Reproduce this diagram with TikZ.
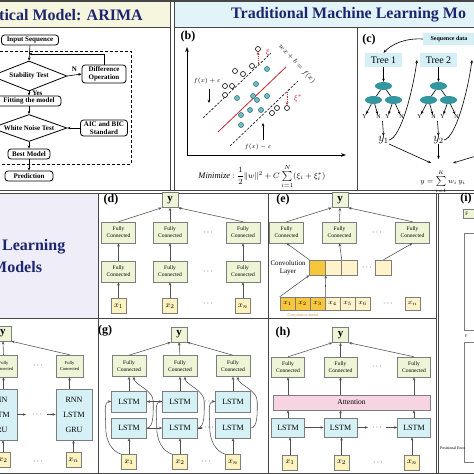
\documentclass[tikz,border=0pt]{standalone}
\usepackage{fontspec}
\setmainfont{Liberation Serif}
\usetikzlibrary{arrows.meta,shapes.geometric,calc}
\newcommand{\fsz}[1]{\fontsize{#1}{#1}\selectfont}
\definecolor{titleblue}{RGB}{28,38,110}
\definecolor{arimahead}{RGB}{246,246,222}
\definecolor{mlhead}{RGB}{226,244,247}
\definecolor{dlhead}{RGB}{239,237,248}
\definecolor{framegray}{RGB}{70,70,70}
\definecolor{boxgray}{RGB}{125,125,125}
\definecolor{arrgray}{RGB}{80,80,80}
\definecolor{fcgreen}{RGB}{238,244,214}
\definecolor{xyellow}{RGB}{253,243,190}
\definecolor{lstmcyan}{RGB}{214,241,245}
\definecolor{attnpink}{RGB}{246,212,226}
\definecolor{golden}{RGB}{246,198,60}
\definecolor{paleyel}{RGB}{254,243,202}
\definecolor{svrteal}{RGB}{64,168,176}
\definecolor{svrred}{RGB}{200,40,50}
\definecolor{treecyan}{RGB}{212,240,246}
\definecolor{treeteal}{RGB}{52,150,158}
\definecolor{kernelcol}{RGB}{200,150,60}
\begin{document}
\begin{tikzpicture}[x=1pt,y=-1pt,
  >={Stealth[length=3.2pt,width=2.6pt]},
  frame/.style={draw=framegray,line width=0.9pt},
  title/.style={font=\fsz{16}\bfseries,text=titleblue,inner sep=0pt,anchor=west},
  plabel/.style={font=\fsz{12}\bfseries,inner sep=0pt},
  arbox/.style={draw=black,rounded corners=3pt,line width=0.8pt,font=\fontsize{7}{8}\selectfont\bfseries,inner sep=0pt,align=center},
  ardia/.style={draw=black,diamond,line width=0.8pt,font=\fsz{7}\bfseries,inner sep=0pt,aspect=2.5},
  arr/.style={->,line width=0.6pt},
  garr/.style={->,draw=arrgray,line width=0.55pt},
  fc/.style={draw=boxgray,line width=0.5pt,fill=fcgreen,minimum width=34pt,minimum height=21pt,inner sep=0pt,align=center,font=\fontsize{5.5}{7}\selectfont},
  ybox/.style={draw=boxgray,line width=0.5pt,fill=fcgreen,minimum width=16pt,minimum height=15pt,inner sep=0pt,font=\fsz{11}\bfseries},
  xbox/.style={draw=boxgray,line width=0.5pt,fill=xyellow,minimum width=15pt,minimum height=15pt,inner sep=0pt,font=\fsz{8}},
  lstm/.style={draw=boxgray,line width=0.5pt,fill=lstmcyan,minimum width=35pt,minimum height=20pt,inner sep=0pt,font=\fsz{8}},
  conv/.style={draw=boxgray,line width=0.5pt,minimum width=16pt,minimum height=15pt,inner sep=0pt},
  incell/.style={draw=boxgray,line width=0.5pt,minimum width=15pt,minimum height=13pt,inner sep=0pt,font=\fsz{7.5}},
  dotsn/.style={font=\fsz{8},inner sep=0pt},
  blackpt/.style={circle,draw=black,line width=0.6pt,fill=white,minimum size=5pt,inner sep=0pt},
  tealpt/.style={circle,draw=svrteal!60!black,line width=0.5pt,fill=svrteal!75,minimum size=5pt,inner sep=0pt},
  treebox/.style={fill=treecyan,minimum width=37pt,minimum height=14pt,inner sep=0pt,font=\fsz{10}},
  treenode/.style={ellipse,fill=treeteal,minimum width=17pt,minimum height=8pt,inner sep=0pt},
  leaf/.style={font=\fsz{6},inner sep=0.5pt}
]
\clip (0,0) rectangle (474,474);
\fill[white] (0,0) rectangle (474,474);
% header bands
\fill[arimahead] (0,2) rectangle (170,27);
\fill[mlhead] (174,2) rectangle (474,27);
\fill[dlhead] (0,193) rectangle (98,318);
% frame lines
\draw[frame,line width=2pt] (0,1) -- (474,1);
\draw[frame] (0,27) -- (170,27);
\draw[frame] (174,27) -- (474,27);
\draw[frame] (170,0) -- (170,190);
\draw[frame] (174,0) -- (174,190);
\draw[frame] (357,27) -- (357,190);
\draw[frame] (0,190) -- (474,190);
\draw[frame] (0,193) -- (474,193);
\draw[frame] (98,193) -- (98,473);
\draw[frame] (268,193) -- (268,473);
\draw[frame] (436.5,193) -- (436.5,473);
\draw[frame] (438.5,193) -- (438.5,473);
\draw[frame] (0,318) -- (436.5,318);
\draw[frame] (0,473) -- (474,473);
% titles
\node[title] (ttlA) at (-1,15) {tical Model: ARIMA};
\node[title] (ttlB) at (231,15) {Traditional Machine Learning Mo};
\node[title] (ttlC1) at (2,247) {Learning};
\node[title] (ttlC2) at (-8,267) {Models};

% ---------- (a) ARIMA
\node[arbox,minimum width=57pt,minimum height=10pt] (inseq) at (30,40) {Input Sequence};
\draw[line width=0.8pt,dash pattern=on 3pt off 2pt] (-5,51) rectangle (131,164);
\node[ardia,minimum width=76pt,minimum height=30pt] (stab) at (29,76) {Stability Test};
\node[arbox,minimum width=44pt,minimum height=18pt] (diff) at (104,74) {Difference\\Operation};
\node[arbox,minimum width=64pt,minimum height=10pt] (fit) at (29,101) {Fitting the model};
\node[ardia,minimum width=76pt,minimum height=27pt] (wnt) at (29,128) {White Noise Test};
\node[arbox,minimum width=47pt,minimum height=16pt] (aic) at (104,128) {AIC and BIC\\Standard};
\node[arbox,minimum width=42pt,minimum height=10pt] (best) at (29,154) {Best Model};
\node[arbox,minimum width=48pt,minimum height=10pt] (pred) at (29,176) {Prediction};
\coordinate (fbk) at (29,54);
\draw[arr] (inseq.south) -- (stab.north);
\draw[arr] (stab.east) -- (diff.west) node[midway,above=3pt,font=\fsz{7}\bfseries,inner sep=0pt] (nlab) {N};
\draw[arr] (diff.north) |- (fbk);
\draw[arr] (stab.south) -- (fit.north) node[midway,right=3pt,font=\fsz{7}\bfseries,inner sep=0pt] (ylab) {Yes};
\draw[arr] (fit.south) -- (wnt.north);
\draw[arr] (aic.west) -- (wnt.east);
\draw[arr] (wnt.south) -- (best.north);
\draw[arr] (best.south) -- (pred.north);

% ---------- (b) SVR
\node[plabel] (lb) at (188,37) {(b)};
\coordinate (bO) at (187,155);
\coordinate (bY) at (187,47);
\coordinate (bX) at (346,155);
\draw[->,line width=0.8pt,>={Stealth[length=5pt,width=3.6pt]}] (bO) -- (bY);
\draw[->,line width=0.8pt,>={Stealth[length=5pt,width=3.6pt]}] (bO) -- (bX);
\coordinate (rA) at (218,132); \coordinate (rB) at (286,67);
\draw[svrred,line width=0.8pt] (rA) -- (rB);
\coordinate (uA) at (203,118); \coordinate (uB) at (271,53);
\draw[line width=0.6pt,dash pattern=on 2.5pt off 1.5pt] (uA) -- (uB);
\coordinate (lA) at (230,146); \coordinate (lB) at (298,81);
\draw[line width=0.6pt,dash pattern=on 2.5pt off 1.5pt] (lA) -- (lB);
\node[font=\fsz{7},rotate=-47,inner sep=0pt] (wxb) at (297,64) {$wx+b=f(x)$};
\foreach \p [count=\i] in {(258,49),(235,71),(252,66),(243,74),(225,86),(232,86),(225,95),(272,113),(277,108),(287,108)}
  \node[blackpt] (bk\i) at \p {};
\foreach \p [count=\i] in {(267,69),(256,84),(237,98),(253,96),(257,100),(267,96),(250,110),(261,110),(241,115),(241,125)}
  \node[tealpt] (tp\i) at \p {};
\coordinate (xiA) at (258,66);
\coordinate (xiB) at (287,92);
\draw[svrred,densely dotted,line width=0.8pt,->] (xiA) -- (bk1);
\draw[svrred,densely dotted,line width=0.8pt,->] (xiB) -- (bk10);
\node[text=svrred,font=\fsz{8},inner sep=0pt] (xil) at (268,52) {$\xi$};
\node[text=svrred,font=\fsz{8},inner sep=0pt] (xisl) at (298,98) {$\xi^{*}$};
\node[font=\fsz{6},inner sep=0pt] (fpe) at (207,81) {$f(x)+\varepsilon$};
\coordinate (fpa) at (209,89); \coordinate (fpb) at (209,103);
\draw[->,line width=0.6pt] (fpa) -- (fpb);
\node[font=\fsz{6},inner sep=0pt] (fme) at (258,147) {$f(x)-\varepsilon$};
\coordinate (fma) at (263,140); \coordinate (fmb) at (263,123);
\draw[->,line width=0.6pt] (fma) -- (fmb);
\node[font=\fsz{8.5},inner sep=0pt] (bform) at (262,176) {$\mathit{Minimize}:{\displaystyle\frac{1}{2}}\|w\|^2+C\sum\limits_{i=1}^{N}(\xi_i+\xi_i^{*})$};

% ---------- (c) boosting trees
\node[plabel] (lc) at (369,40) {(c)};
\node[fill=treecyan,minimum width=52pt,minimum height=12pt,inner sep=0pt,font=\fsz{6}\bfseries] (seq) at (449,39) {Sequence data};
\node[treebox] (tree1) at (383.5,60) {Tree 1};
\node[treebox] (tree2) at (438.5,60) {Tree 2};
\draw[arr] (seq.west) .. controls (405,38) and (392,44) .. (tree1.north);
\foreach \k/\tx in {1/383.5,2/438.5}{
  \node[treenode] (tt\k) at (\tx,86) {};
  \node[treenode] (tca\k) at (\tx-10,100) {};
  \node[treenode] (tcb\k) at (\tx+10,100) {};
  \draw[line width=0.6pt] (tt\k) -- (tca\k);
  \draw[line width=0.6pt] (tt\k) -- (tcb\k);
  \draw[arr] (tree\k.south) -- (tt\k.north);
  \node[leaf] (la\k) at (\tx-19,117) {Y};
  \node[leaf] (lb\k) at (\tx-5,117) {N};
  \node[leaf] (lc\k) at (\tx+4,117) {Y};
  \node[leaf] (ld\k) at (\tx+18,117) {N};
  \draw[arr] (tca\k) -- (la\k);
  \draw[arr] (tca\k) -- (lb\k);
  \draw[arr] (tcb\k) -- (lc\k);
  \draw[arr] (tcb\k) -- (ld\k);
  \coordinate (ys\k) at (\tx-1,121);
  \node[font=\fsz{12},inner sep=0pt] (yy\k) at (\tx,140) {$y_{\k}$};
  \draw[arr] (ys\k) -- (yy\k.north);
  \coordinate (ce\k) at (\tx+33.5,60);
  \draw[arr] (yy\k.east) .. controls +(12,-2) and +(-4,30) .. (ce\k);
}
\node[font=\fsz{7.5},inner sep=0pt] (ysum) at (443,182) {$y=\sum\limits_{i=1}^{K} w_i\, y_i$};
\coordinate (sumL) at (431,163);
\coordinate (sumT) at (438.5,159);
\coordinate (sumR) at (453,163);
\coordinate (offR) at (476,156);
\draw[arr] (yy1.south east) -- (sumL);
\draw[arr] (yy2.south) -- (sumT);
\draw[arr] (offR) -- (sumR);

% ---------- (d)
\node[plabel] (ld) at (111,200) {(d)};
\node[ybox] (dy) at (170,200) {y};
\foreach \k/\cx/\lab in {1/118.5/1,2/170/2,3/243/n}{
  \node[fc] (df\k) at (\cx,232.5) {Fully\\Connected};
  \node[fc] (dg\k) at (\cx,271.5) {Fully\\Connected};
  \node[xbox] (dx\k) at (\cx,306) {$x_{\lab}$};
  \draw[garr] (dx\k) -- (dg\k);
  \draw[garr] (dg\k) -- (df\k);
}
\draw[garr] (df1.north) -- (dy.south west);
\draw[garr] (df2.north) -- (dy.south);
\draw[garr] (df3.north) -- (dy.south east);
\node[dotsn] (dd1) at (208,232.5) {$\cdots$};
\node[dotsn] (dd2) at (208,271.5) {$\cdots$};
\node[dotsn] (dd3) at (208,304) {$\cdots$};

% ---------- (e)
\node[plabel] (le) at (283,200) {(e)};
\node[ybox] (ey) at (340,200) {y};
\foreach \k/\cx in {1/286.5,2/339.5,3/412.5} \node[fc] (ef\k) at (\cx,232.5) {Fully\\Connected};
\node[dotsn] (ed1) at (377,232.5) {$\cdots$};
\node[font=\fontsize{7}{8}\selectfont,align=center,inner sep=0pt] (econv) at (288,268) {Convolution\\Layer};
\node[conv,fill=golden] (ec1) at (317.5,267.5) {};
\node[conv,fill=paleyel] (ec2) at (333.5,267.5) {};
\node[conv,fill=paleyel] (ec3) at (349.5,267.5) {};
\node[dotsn] (ed2) at (367,267.5) {$\cdots$};
\node[conv,fill=paleyel] (ec4) at (383.5,267.5) {};
\foreach \k/\cx/\col in {1/287.5/golden,2/302.5/golden,3/317.5/golden,4/332.5/paleyel,5/347.5/paleyel,6/362.5/paleyel}
  \node[incell,fill=\col] (ei\k) at (\cx,303.5) {$x_{\k}$};
\node[dotsn] (ed3) at (388,303.5) {$\cdots$};
\node[incell,fill=paleyel] (ein) at (412.5,303.5) {$x_n$};
\node[font=\fsz{4},text=kernelcol,inner sep=0pt] (ekern) at (303,315) {Convolution kernel};
\draw[garr] (ei1.north west) -- (ec1.south west);
\draw[garr] (ei3.north east) -- (ec1.south east);
\draw[garr] (ec1.north west) -- (ef1.south);
\draw[garr] (ec2.north east) -- (ef2.south);
\draw[garr] (ec4.north) -- (ef3.south);
\draw[garr] (ef1.north) -- (ey.south west);
\draw[garr] (ef2.north) -- (ey.south);
\draw[garr] (ef3.north) -- (ey.south east);

% ---------- (f)
\node[ybox] (fy) at (3,333.5) {y};
\node[fc,minimum width=27pt,minimum height=22pt,font=\fontsize{4.5}{5.5}\selectfont] (ff1) at (3.5,366) {Fully\\Connected};
\node[fc,minimum width=27pt,minimum height=22pt,font=\fontsize{4.5}{5.5}\selectfont] (ff2) at (69.5,366) {Fully\\Connected};
\node[lstm,minimum width=36pt,minimum height=51pt,align=center,font=\fontsize{8}{15}\selectfont] (fr1) at (-1,414.5) {RNN\\LSTM\\GRU};
\node[lstm,minimum width=36pt,minimum height=51pt,align=center,font=\fontsize{8}{15}\selectfont] (fr2) at (74,414.5) {RNN\\LSTM\\GRU};
\node[xbox] (fx1) at (3,460) {$x_2$};
\node[xbox] (fx2) at (73.5,460) {$x_n$};
\node[dotsn] (fd1) at (38,366) {$\cdots$};
\node[dotsn] (fd2) at (37,414.5) {$\cdots$};
\node[dotsn] (fd3) at (38,462) {$\cdots$};
\draw[garr] (fx1.north) -- (fx1.north |- fr1.south);
\draw[garr] (fx2.north) -- (fx2.north |- fr2.south);
\draw[garr] (ff1.south |- fr1.north) -- (ff1.south);
\draw[garr] (ff2.south |- fr2.north) -- (ff2.south);
\draw[garr] (ff1.north) -- (fy.south);
\draw[garr] (ff2.north) -- (fy.south east);
\coordinate (fa) at (26,414.5); \coordinate (fb) at (47,414.5);
\draw[garr] (fr1.east) -- (fa);
\draw[garr] (fb) -- (fr2.west);

% ---------- (g)
\node[plabel] (lg) at (105,331) {(g)};
\node[ybox] (gy) at (179,334.5) {y};
\foreach \k/\cx/\lab in {1/129/1,2/180/2,3/233/n}{
  \node[fc] (gf\k) at (\cx,366) {Fully\\Connected};
  \node[lstm,minimum height=21pt] (gu\k) at (\cx,401.5) {LSTM};
  \node[lstm] (gl\k) at (\cx,428) {LSTM};
  \node[xbox] (gx\k) at (\cx,462) {$x_{\lab}$};
  \draw[garr] (gx\k) -- (gl\k);
  \draw[garr] (gu\k) -- (gf\k);
  \draw[garr] (gl\k.east) .. controls +(7,0) and +(0,12) .. ($(gu\k.east)+(6.5,0)$) .. controls +(0,-12) and +(0,8) .. ($(gf\k.south)+(5,0)$);
  \draw[garr] (gx\k.north west) .. controls +(-10,-3) and +(0,12) .. ($(gl\k.west)+(-5.5,0)$) .. controls +(0,-14) and +(-8,0) .. (gu\k.west);
}
\draw[garr] (gf1.north) -- (gy.south west);
\draw[garr] (gf2.north) -- (gy.south);
\draw[garr] (gf3.north) -- (gy.south east);
\draw[garr] (gl1.east) -- (gl2.west);
\draw[garr] (gu2.west) -- (gu1.east);
\coordinate (gc1) at (203,428);
\draw[garr] (gl2.east) -- (gc1);
\node[dotsn] (gd1) at (209,428) {$\cdots$};
\node[dotsn] (gd2) at (209,401.5) {$\cdots$};
\node[dotsn] (gd3) at (206,462) {$\cdots$};

% ---------- (h)
\node[plabel] (lh) at (283,333) {(h)};
\node[ybox] (hy) at (340.5,335) {y};
\node[fill=attnpink,draw=boxgray,line width=0.5pt,minimum width=157pt,minimum height=15pt,inner sep=0pt,font=\fsz{7.5}] (hat) at (351.5,402.5) {Attention};
\foreach \k/\cx/\xc/\lab in {1/288/290/1,2/340.5/341.5/2,3/414/412/n}{
  \node[fc,minimum width=33pt,minimum height=20pt] (hf\k) at (\cx,367) {Fully\\Connected};
  \node[lstm,minimum width=33pt,minimum height=19pt] (hl\k) at (\cx,427.5) {LSTM};
  \node[xbox] (hx\k) at (\xc,462.5) {$x_{\lab}$};
  \draw[garr] (hx\k.north) -- (hx\k.north |- hl\k.south);
  \draw[garr] (hl\k.north) -- (hl\k.north |- hat.south);
  \draw[garr] (hf\k.south |- hat.north) -- (hf\k.south);
}
\draw[garr] (hf1.north) -- (hy.south west);
\draw[garr] (hf2.north) -- (hy.south);
\draw[garr] (hf3.north) -- (hy.south east);
\draw[garr] (hl1.east) -- (hl2.west);
\coordinate (hc1) at (368,427.5); \coordinate (hc2) at (386,427.5);
\draw[garr] (hl2.east) -- (hc1);
\draw[garr] (hc2) -- (hl3.west);
\node[dotsn] (hd1) at (377,427.5) {$\cdots$};
\node[dotsn] (hd2) at (377,367) {$\cdots$};
\node[dotsn] (hd3) at (378,462.5) {$\cdots$};

% ---------- (i)
\node[plabel] (li) at (466,199) {(i)};
\node[draw=boxgray,line width=0.5pt,fill=fcgreen,minimum width=20pt,minimum height=9pt,anchor=west,inner sep=1.5pt,font=\fsz{5},text width=16pt,align=left] (ifc) at (463,214) {F};
\node[draw=boxgray,line width=0.5pt,minimum width=30pt,minimum height=97pt,anchor=north west,inner sep=0pt] (ib1) at (464,233) {};
\node[font=\fsz{4},inner sep=0pt,anchor=west] (itx) at (465,336) {F};
\node[draw=boxgray,line width=0.5pt,minimum width=30pt,minimum height=120pt,anchor=north west,inner sep=0pt] (ib2) at (464,342) {};
\node[font=\fsz{4},inner sep=0pt,anchor=west] (ipos) at (440,448) {Positional Enco};
\end{tikzpicture}
\end{document}
